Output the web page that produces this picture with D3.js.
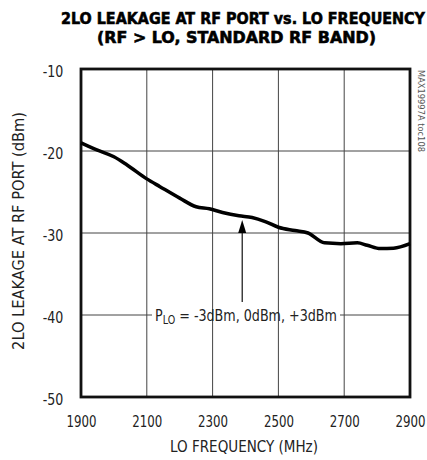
<!DOCTYPE html>
<html>
<head>
<meta charset="utf-8">
<script src="https://cdn.jsdelivr.net/npm/d3@7"></script>
<style>
  body { margin: 0; background: #fff; }
  svg text { font-family: "DejaVu Sans Condensed", "Liberation Sans", sans-serif; fill: #222; }
</style>
</head>
<body>
<div id="chart"></div>
<script>
// LO frequency (MHz) vs 2LO leakage (dBm)
const freq = [1900, 1950, 2000, 2040, 2100, 2140, 2200, 2250, 2290, 2330, 2380, 2420, 2460, 2500, 2550, 2590, 2640, 2690, 2740, 2770, 2810, 2850, 2900];
const leak = [-19.0, -19.9, -20.7, -21.7, -23.4, -24.35, -25.75, -26.8, -27.05, -27.5, -27.9, -28.1, -28.6, -29.3, -29.7, -30.0, -31.2, -31.3, -31.2, -31.5, -31.9, -31.85, -31.3];
const xTicks = [1900, 2100, 2300, 2500, 2700, 2900];
const yTicks = [-10, -20, -30, -40, -50];
const titleLines = ['2LO LEAKAGE AT RF PORT vs. LO FREQUENCY', '(RF > LO, STANDARD RF BAND)'];

const margin = {top: 69, left: 81},
      width = 329,
      height = 328;

const svg = d3.select('#chart').append('svg')
    .attr('width', 427)
    .attr('height', 460);

const g = svg.append('g')
    .attr('transform', 'translate(' + margin.left + ',' + margin.top + ')');

const x = d3.scaleLinear().domain([1900, 2900]).range([0, width]);
const y = d3.scaleLinear().domain([-50, -10]).range([height, 0]);

// squeeze a text horizontally to a given width, around its anchor x
// (the reference uses a condensed face we don't have)
function squeeze(sel, w) {
  sel.each(function() {
    const t = d3.select(this),
          ax = +(t.attr('x') || 0),
          pre = t.attr('transform') || '',
          s = w / this.getComputedTextLength();
    t.attr('transform', pre + ' translate(' + ax + ',0) scale(' + s + ',1) translate(' + (-ax) + ',0)');
  });
}

// title
svg.selectAll('.title')
  .data(titleLines)
  .enter()
  .append('text')
    .attr('class', 'title')
    .attr('x', (d, i) => i == 0 ? 243 : 236.5)
    .attr('y', (d, i) => i == 0 ? 24.5 : 43.5)
    .attr('text-anchor', 'middle')
    .style('font-size', '16.3px')
    .style('font-weight', 'bold')
    .style('fill', '#000')
    .style('stroke', '#000')
    .style('stroke-width', 0.55)
    .text(d => d)
    .each(function(d, i) { d3.select(this).call(squeeze, i == 0 ? 364 : 279); });

// gridlines
g.append('g').selectAll('line')
  .data(xTicks.slice(1, -1))
  .enter()
  .append('line')
    .attr('x1', d => x(d)).attr('x2', d => x(d))
    .attr('y1', 0).attr('y2', height)
    .attr('stroke', '#444').attr('stroke-width', 1);

g.append('g').selectAll('line')
  .data([-20, -30])
  .enter()
  .append('line')
    .attr('x1', 0).attr('x2', width)
    .attr('y1', d => y(d)).attr('y2', d => y(d))
    .attr('stroke', '#444').attr('stroke-width', 1);

// annotation label, -40 gridline broken around it
const lx = 155 - margin.left, lw = 182;
const label = g.append('g')
    .attr('transform', 'translate(' + (lx + lw / 2) + ',' + (y(-40) + 6) + ')')
  .append('text')
    .attr('text-anchor', 'middle')
    .style('font-size', '16px');
label.append('tspan').text('P');
label.append('tspan').attr('dy', 3).style('font-size', '12px').text('LO');
label.append('tspan').attr('dy', -3).text(' = -3dBm, 0dBm, +3dBm');
const natural = label.node().getBBox().width;
label.attr('transform', 'scale(' + (lw / natural) + ',1)');

g.append('line')
  .attr('x1', 0).attr('x2', lx - 3)
  .attr('y1', y(-40)).attr('y2', y(-40))
  .attr('stroke', '#444').attr('stroke-width', 1);
g.append('line')
  .attr('x1', lx + lw + 3).attr('x2', width)
  .attr('y1', y(-40)).attr('y2', y(-40))
  .attr('stroke', '#444').attr('stroke-width', 1);

// frame
g.append('rect')
  .attr('width', width).attr('height', height)
  .attr('fill', 'none')
  .attr('stroke', '#111')
  .attr('stroke-width', 2.8);

// axes (labels only)
const xAxis = d3.axisBottom(x).tickValues(xTicks).tickSize(0).tickPadding(19).tickFormat(d => d);
const yAxis = d3.axisLeft(y).tickValues(yTicks).tickSize(0).tickPadding(17.7).tickFormat(d => d);

g.append('g')
  .attr('class', 'x-axis')
  .attr('transform', 'translate(0,' + height + ')')
  .call(xAxis)
  .call(a => a.select('.domain').remove())
  .selectAll('text')
    .style('font-size', '15px').style('font-family', null)
    .call(squeeze, 30);

g.append('g')
  .attr('class', 'y-axis')
  .call(yAxis)
  .call(a => a.select('.domain').remove())
  .selectAll('text')
    .style('font-size', '15px').style('font-family', null)
    .attr('dy', '0.48em')
    .call(squeeze, 20.6);

// curve
const line = d3.line()
  .x((d, i) => x(freq[i]))
  .y(d => y(d))
  .curve(d3.curveMonotoneX);

g.append('path')
  .datum(leak)
  .attr('d', line)
  .attr('fill', 'none')
  .attr('stroke', '#000')
  .attr('stroke-width', 3.5)
  .attr('stroke-linejoin', 'round');

// arrow
const ax = x(2390);
g.append('line')
  .attr('x1', ax).attr('x2', ax)
  .attr('y1', y(-29.5)).attr('y2', y(-38.4))
  .attr('stroke', '#111').attr('stroke-width', 1.2);
g.append('path')
  .attr('d', 'M' + ax + ',' + y(-28.4) + 'L' + (ax - 4) + ',' + y(-30) + 'L' + (ax + 4) + ',' + y(-30) + 'Z')
  .attr('fill', '#000');

// axis titles
svg.append('text')
  .attr('x', 244)
  .attr('y', 452)
  .attr('text-anchor', 'middle')
  .style('font-size', '15px')
  .text('LO FREQUENCY (MHz)')
  .call(squeeze, 148);

svg.append('text')
  .attr('transform', 'rotate(-90)')
  .attr('x', -231)
  .attr('y', 24)
  .attr('text-anchor', 'middle')
  .style('font-size', '15px')
  .text('2LO LEAKAGE AT RF PORT (dBm)')
  .call(squeeze, 238);

// side reference tag
svg.append('text')
  .attr('transform', 'translate(418,70) rotate(90)')
  .attr('text-anchor', 'start')
  .style('font-size', '9.5px')
  .style('fill', '#555')
  .text('MAX19997A toc108')
  .call(squeeze, 82);
</script>
</body>
</html>
